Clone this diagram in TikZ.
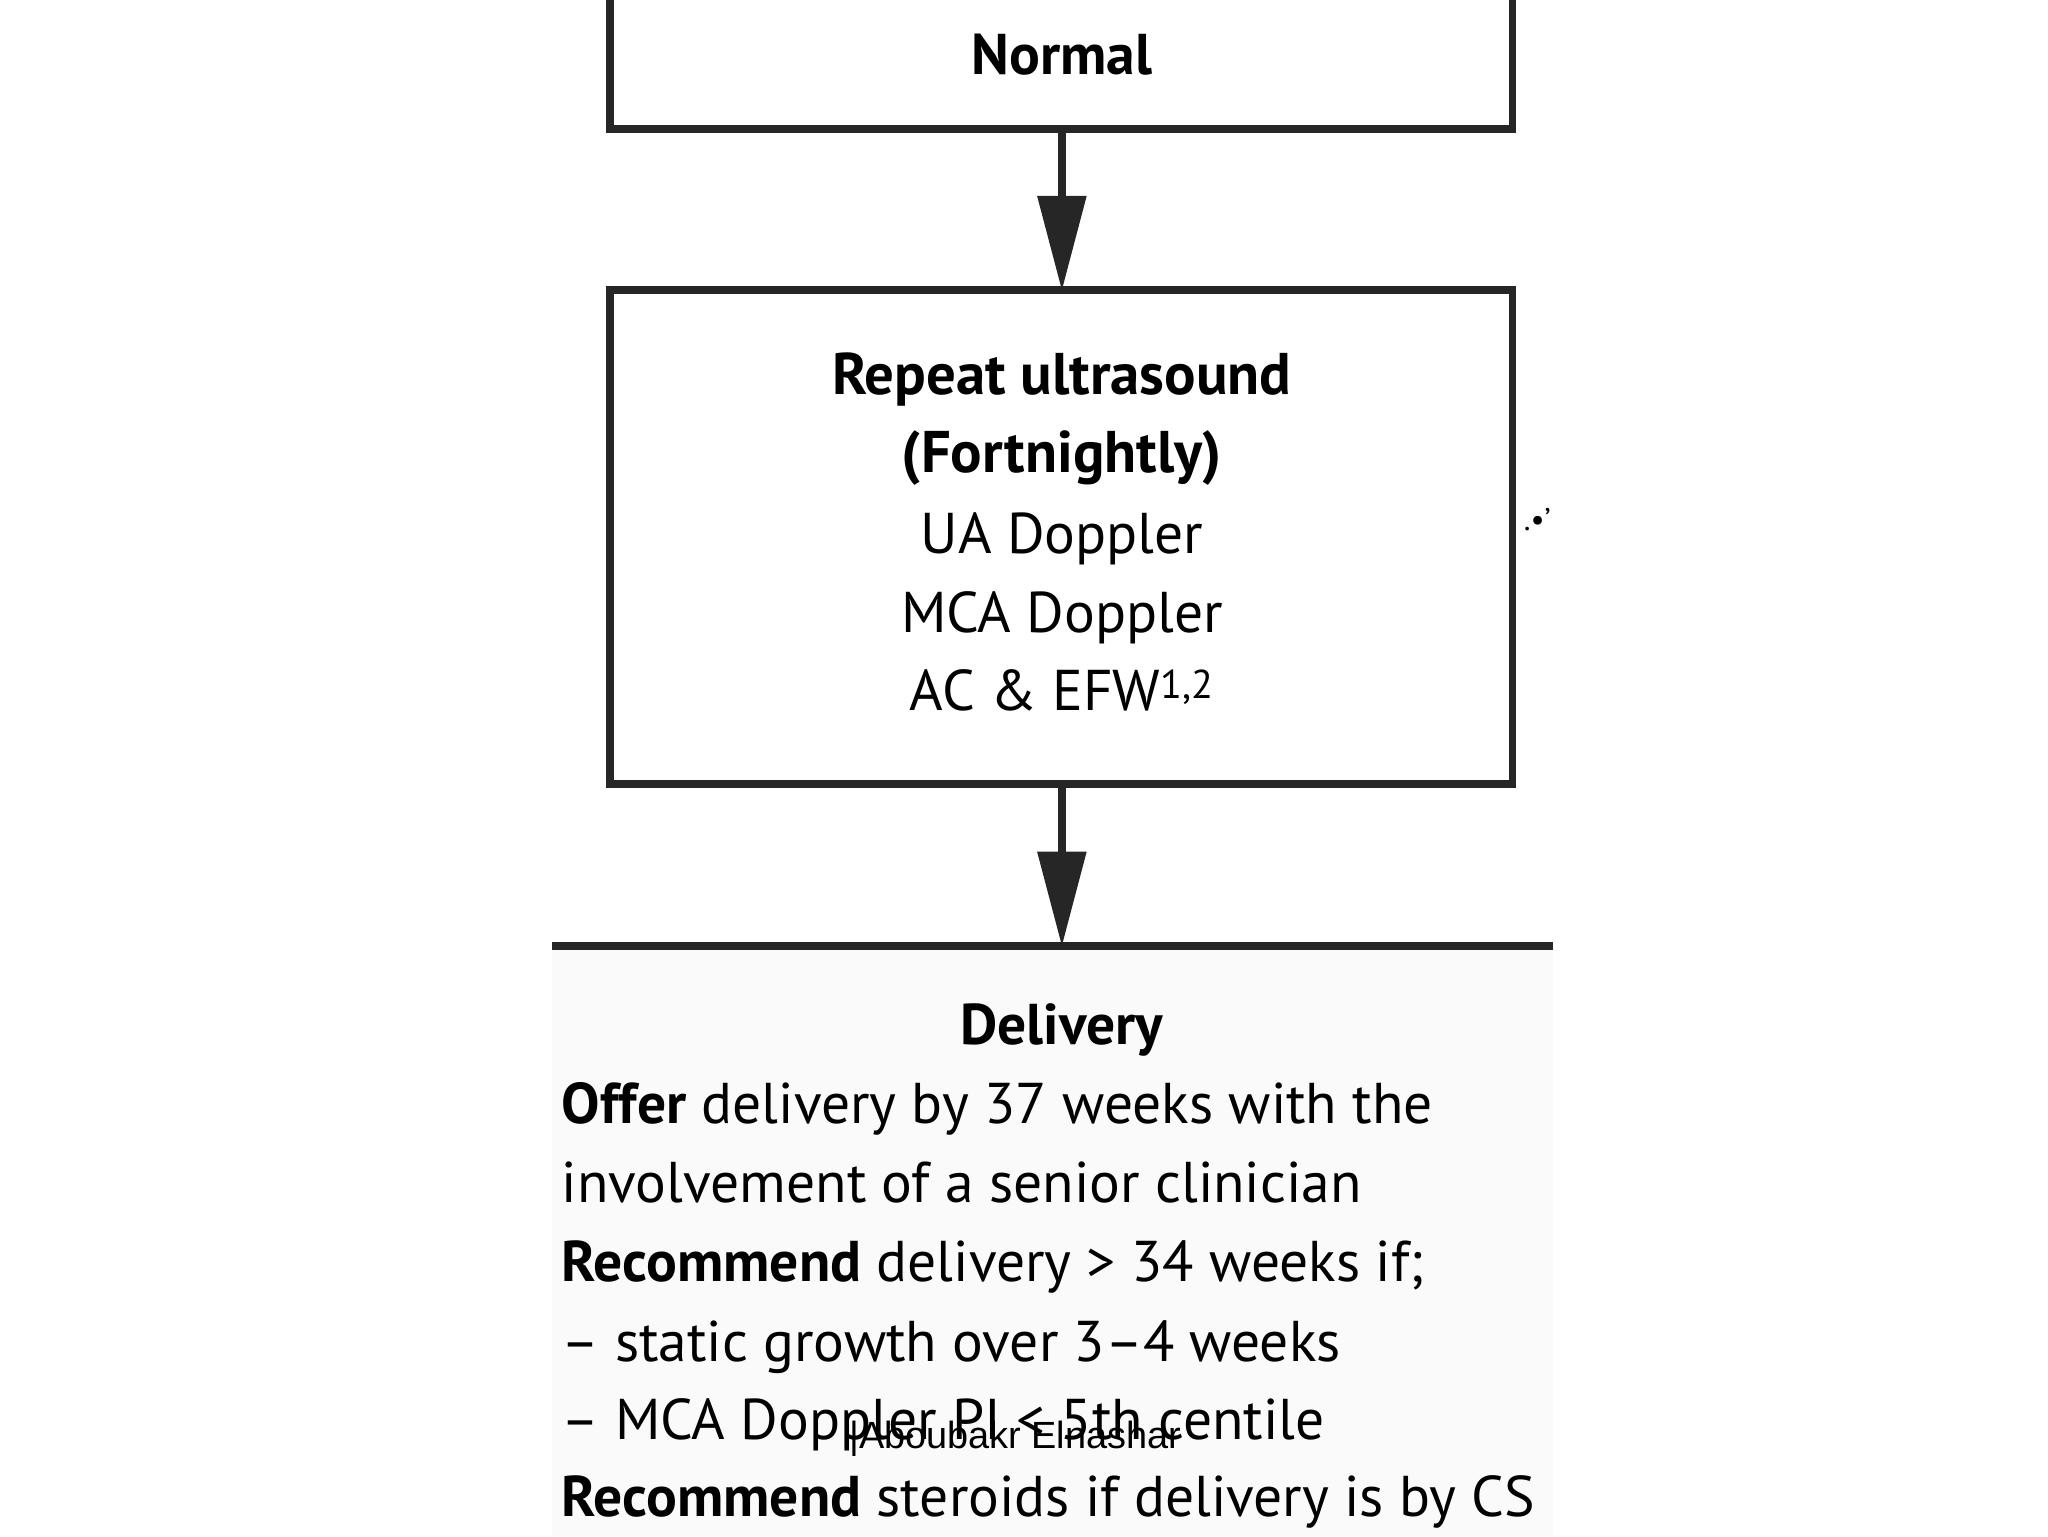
\documentclass[tikz,border=0pt]{standalone}
\usepackage{fontspec}
\setmainfont{PT Sans}
\newfontfamily\wm{Liberation Sans}
\begin{document}
\begin{tikzpicture}[x=1pt,y=-1pt,
  box/.style={draw=black!85,line width=6pt},
  arr/.style={line width=6pt,draw=black!85},
  head/.style={fill=black!85},
  txt/.style={font=\fontsize{44}{60}\selectfont,inner sep=0pt},
  ltxt/.style={font=\fontsize{44}{60}\selectfont,inner sep=0pt,anchor=base west}]
\useasboundingbox (0,0) rectangle (1568,1176);
\fill[black!2] (423,724) rectangle (1189,1176);
\draw[box] (467,-10) -- (467,99) -- (1158,99) -- (1158,-10);
\node[txt,font=\fontsize{44}{60}\selectfont\bfseries] (n) at (813,42) {Normal};
\draw[box] (467,222) rectangle (1158,600);
\coordinate (b1) at (813,99); \coordinate (t2) at (813,222);
\coordinate (b2) at (813,600); \coordinate (t3) at (813,724);
\draw[arr] (b1) -- (813,155);
\fill[head] (794,150) -- (832,150) -- (t2) -- cycle;
\draw[arr] (b2) -- (813,655);
\fill[head] (794,652) -- (832,652) -- (t3) -- cycle;
\draw[line width=6pt,black!85] (423,724) -- (1189,724);
\node[txt,font=\fontsize{45}{60}\selectfont\bfseries,anchor=base] (r1) at (813,302) {Repeat ultrasound};
\node[txt,font=\fontsize{45}{60}\selectfont\bfseries,anchor=base] (r2) at (813,362) {(Fortnightly)};
\node[txt,anchor=base] (r3) at (813,424) {UA Doppler};
\node[txt,anchor=base] (r4) at (813,484) {MCA Doppler};
\node[txt,anchor=base] (r5) at (813,544) {AC \& EFW\textsuperscript{1,2}};
\node[inner sep=0pt,font=\fontsize{24}{24}\selectfont] (dot) at (1177,398) {.•'};
\node[txt,font=\fontsize{44}{60}\selectfont\bfseries,anchor=base] (d) at (813,800) {Delivery};
\node[ltxt] (l1) at (430,860) {\textbf{Offer} delivery by 37 weeks with the};
\node[ltxt] (l2) at (430,921) {involvement of a senior clinician};
\node[ltxt] (l3) at (430,981) {\textbf{Recommend} delivery > 34 weeks if;};
\node[ltxt] (l4) at (430,1042) {– static growth over 3–4 weeks};
\node[ltxt] (l5) at (430,1102) {– MCA Doppler PI < 5th centile};
\node[ltxt] (l6) at (430,1161) {\textbf{Recommend} steroids if delivery is by CS};
\node[inner sep=0pt,font=\wm\fontsize{29}{29}\selectfont,anchor=base west] (w) at (650,1109) {|Aboubakr Elnashar};
\end{tikzpicture}
\end{document}
